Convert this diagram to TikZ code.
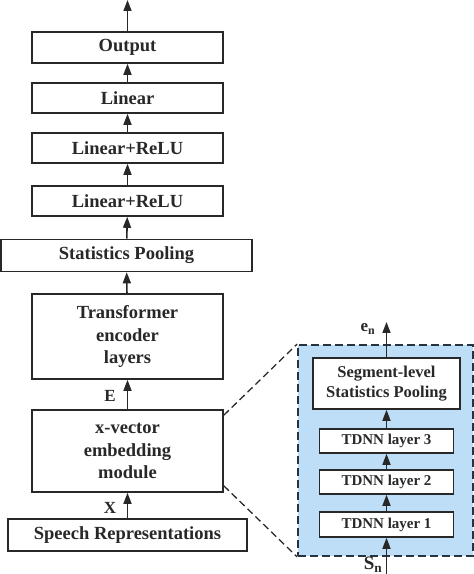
\documentclass[tikz,border=0pt]{standalone}
\usepackage{fontspec}
\setmainfont{Liberation Serif}
\usepackage{xcolor}
\usetikzlibrary{arrows.meta,positioning,calc}
\definecolor{zoomfill}{RGB}{190,221,247}
\definecolor{inkgray}{RGB}{40,40,40}
\definecolor{zoomedge}{RGB}{38,52,66}

\begin{document}
\begin{tikzpicture}[
  x=1pt, y=1pt,
  every node/.style={font=\bfseries, text=inkgray},
  layer/.style={rectangle, draw=inkgray, line width=1.6pt, fill=white,
    inner sep=0pt, align=center, font=\fontsize{18.5}{22.5}\selectfont\bfseries},
  tdnn/.style={layer, font=\fontsize{15}{17}\selectfont\bfseries},
  zoombox/.style={rectangle, draw=zoomedge, dash pattern=on 8pt off 4pt,
    line width=1.8pt, fill=zoomfill, inner sep=0pt},
  arrow/.style={-{Triangle[length=11pt, width=8pt]}, line width=1.6pt, draw=inkgray},
  link/.style={dash pattern=on 7pt off 4pt, line width=1.3pt, draw=inkgray}
]
  \useasboundingbox (0,0) rectangle (474,574);

  % main stack
  \node[layer, minimum width=239pt, minimum height=32pt] (speech) at (127.5,39) {Speech Representations};
  \node[layer, minimum width=191pt, minimum height=82pt] (xvec) at (127.5,123) {x-vector\\embedding\\module};
  \node[layer, minimum width=191pt, minimum height=85pt] (trans) at (127.5,237.5) {Transformer\\encoder\\layers};
  \node[layer, minimum width=251pt, minimum height=32pt] (pool) at (126.5,318.5) {Statistics Pooling};
  \node[layer, minimum width=191pt, minimum height=30pt] (relu1) at (127.5,373) {Linear+ReLU};
  \node[layer, minimum width=191pt, minimum height=30pt] (relu2) at (127.5,426) {Linear+ReLU};
  \node[layer, minimum width=191pt, minimum height=30pt] (lin) at (127.5,476) {Linear};
  \node[layer, minimum width=191pt, minimum height=31pt] (out) at (127.5,526.5) {Output};
  \coordinate (top) at (127.5,574);

  \node[font=\fontsize{17}{18}\selectfont\bfseries] (xlab) at (110,66) {X};
  \node[font=\fontsize{17}{18}\selectfont\bfseries] (elab) at (110,178) {E};

  \draw[arrow] (speech) -- (xvec);
  \draw[arrow] (xvec) -- (trans);
  \draw[arrow] (trans) -- (pool);
  \draw[arrow] (pool) -- (relu1);
  \draw[arrow] (relu1) -- (relu2);
  \draw[arrow] (relu2) -- (lin);
  \draw[arrow] (lin) -- (out);
  \draw[arrow] (out) -- (top);

  % x-vector detail
  \node[zoombox, minimum width=175pt, minimum height=211pt] (zoom) at (385.5,123.5) {};
  \node[tdnn, minimum width=134pt, minimum height=25pt] (td1) at (386.5,49.5) {TDNN layer 1};
  \node[tdnn, minimum width=134pt, minimum height=24pt] (td2) at (386.5,92) {TDNN layer 2};
  \node[tdnn, minimum width=134pt, minimum height=24pt] (td3) at (386.5,133) {TDNN layer 3};
  \node[layer, minimum width=147pt, minimum height=51pt,
    font=\fontsize{16.5}{20}\selectfont\bfseries] (seg) at (386.5,190.5) {Segment-level\\Statistics Pooling};
  \coordinate (sin) at (386.5,0);
  \coordinate (eout) at (386.5,252);
  \node[font=\fontsize{17}{18}\selectfont\bfseries] (elabn) at (368,245) {e\textsubscript{n}};
  \node[font=\fontsize{19}{20}\selectfont\bfseries] (slabn) at (373,9) {S\textsubscript{n}};

  \draw[arrow] (sin) -- (td1);
  \draw[arrow] (td1) -- (td2);
  \draw[arrow] (td2) -- (td3);
  \draw[arrow] (td3) -- (seg);
  \draw[arrow] (seg) -- (eout);

  \draw[link] ($(xvec.north east)+(0,-6)$) -- (zoom.north west);
  \draw[link] ($(xvec.south east)+(0,7)$) -- (zoom.south west);
\end{tikzpicture}
\end{document}
